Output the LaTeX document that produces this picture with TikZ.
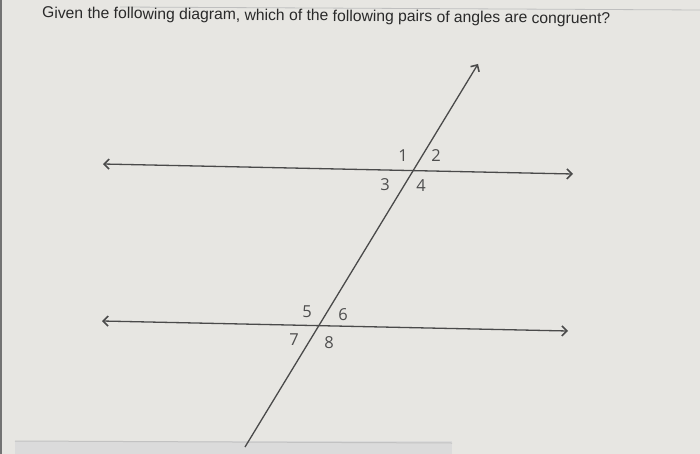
\documentclass[tikz,border=0pt]{standalone}
\usepackage{fontspec}
\setmainfont{Liberation Sans}
\newfontfamily\labfont{Open Sans}
\usetikzlibrary{arrows.meta}
\definecolor{bgc}{HTML}{E7E6E2}
\definecolor{inkc}{HTML}{4A4A4A}
\definecolor{labc}{HTML}{4E4E4E}
\definecolor{txtc}{HTML}{2A2A2A}
\tikzset{
  geoline/.style={draw=inkc, line width=1.3pt, {Straight Barb[length=5pt,width=10pt,line width=1.6pt]}-{Straight Barb[length=5pt,width=10pt,line width=1.6pt]}},
  rayline/.style={draw=inkc, line width=1.3pt, -{Straight Barb[length=5pt,width=10pt,line width=1.6pt]}},
  anglab/.style={font=\labfont\fontsize{16.5}{16.5}\selectfont, text=labc, inner sep=0pt},
}
\begin{document}
\begin{tikzpicture}[x=1pt,y=-1pt]
\useasboundingbox (0,0) rectangle (700,454);
\fill[bgc] (0,0) rectangle (700,454);
\fill[black!55] (0,0) rectangle (2,454);
\draw[black!25, line width=0.8pt] (120,7) -- (700,10);
\fill[black!14] (15,441) rectangle (452,454);
\draw[black!24, line width=1pt] (15,441) -- (452,443);
\node[anchor=base west, inner sep=0pt, text=txtc, rotate=-0.6, font=\fontsize{15.7}{17}\selectfont] (title) at (42,18) {Given the following diagram, which of the following pairs of angles are congruent?};
% lines
\coordinate (aL) at (103,164);
\coordinate (aR) at (573,174);
\coordinate (bL) at (102,321);
\coordinate (bR) at (568,331);
\coordinate (tT) at (478,64);
\coordinate (tB) at (245,447);
\draw[geoline] (aR) -- (aL);
\draw[geoline] (bR) -- (bL);
\draw[rayline] (tB) -- (tT);
% labels
\node[anglab] (l1) at (403,156) {1};
\node[anglab] (l2) at (436,156) {2};
\node[anglab] (l3) at (385,185) {3};
\node[anglab] (l4) at (421,186) {4};
\node[anglab] (l5) at (307,312) {5};
\node[anglab] (l6) at (343,315) {6};
\node[anglab] (l7) at (294,340) {7};
\node[anglab] (l8) at (329,343) {8};
\end{tikzpicture}
\end{document}
